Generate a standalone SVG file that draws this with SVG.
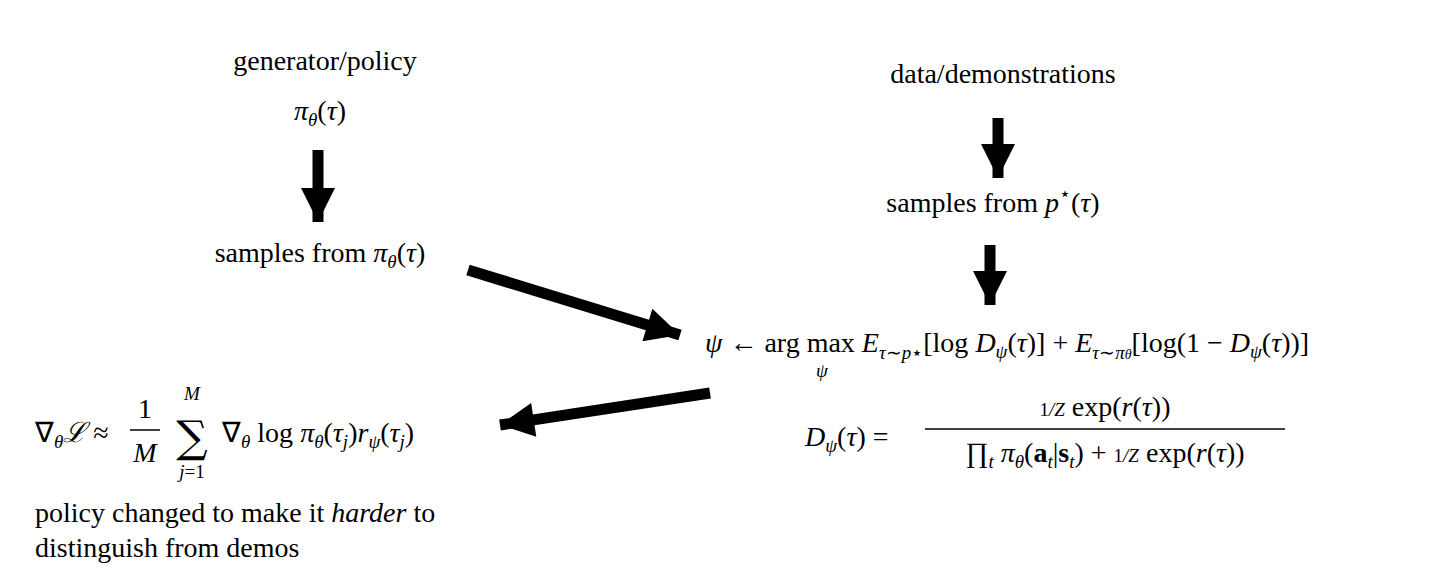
<svg xmlns="http://www.w3.org/2000/svg" width="1455" height="571" viewBox="0 0 1455 571" font-family="'Liberation Serif', 'Times New Roman', serif">
<style>
text{font-family:'Liberation Serif','Times New Roman',serif;font-size:28px;fill:#000}
.s{font-size:19px}
.i{font-style:italic}
.ar{stroke:#000;stroke-width:11;fill:none}
</style>
<defs>
<marker id="h" viewBox="0 0 10 10" refX="10" refY="5" markerWidth="3.6" markerHeight="3.1" orient="auto" markerUnits="strokeWidth">
<path d="M0,0L10,5L0,10z" fill="#000"/>
</marker>
</defs>
<rect width="1455" height="571" fill="#fff"/>
<g id="generator">
<text x="325" y="70" text-anchor="middle">generator/policy</text>
<text x="320" y="120" text-anchor="middle"><tspan class="i">π</tspan><tspan class="s i" dy="6">θ</tspan><tspan dy="-6">(</tspan><tspan class="i">τ</tspan>)</text>
</g>
<g id="samples_pi">
<text x="320" y="262" text-anchor="middle">samples from <tspan class="i">π</tspan><tspan class="s i" dy="6">θ</tspan><tspan dy="-6">(</tspan><tspan class="i">τ</tspan>)</text>
</g>
<g id="data">
<text x="1003" y="83" text-anchor="middle">data/demonstrations</text>
</g>
<g id="samples_p">
<text x="993" y="212" text-anchor="middle">samples from <tspan class="i">p</tspan><tspan class="s" dy="-12">⋆</tspan><tspan dy="12">(</tspan><tspan class="i">τ</tspan>)</text>
</g>
<g id="discriminator">
<text x="705" y="352"><tspan class="i">ψ</tspan> ← arg max <tspan class="i">E</tspan><tspan class="s" dy="7"><tspan class="i">τ</tspan>∼<tspan class="i">p</tspan>⋆</tspan><tspan dy="-7">[log </tspan><tspan class="i">D</tspan><tspan class="s i" dy="6">ψ</tspan><tspan dy="-6">(</tspan><tspan class="i">τ</tspan>)] + <tspan class="i">E</tspan><tspan class="s" dy="7"><tspan class="i">τ</tspan>∼<tspan class="i">π</tspan><tspan class="i" font-size="14">θ</tspan></tspan><tspan dy="-7">[log(1 − </tspan><tspan class="i">D</tspan><tspan class="s i" dy="6">ψ</tspan><tspan dy="-6">(</tspan><tspan class="i">τ</tspan>))]</text>
<text x="822" y="377" class="s i" text-anchor="middle">ψ</text>
</g>
<g id="dform">
<text x="805" y="446"><tspan class="i">D</tspan><tspan class="s i" dy="6">ψ</tspan><tspan dy="-6">(</tspan><tspan class="i">τ</tspan>) =</text>
<text x="1105" y="416" text-anchor="middle"><tspan class="s">1</tspan><tspan class="s i">/Z</tspan> exp(<tspan class="i">r</tspan>(<tspan class="i">τ</tspan>))</text>
<line x1="925" y1="429" x2="1285" y2="429" stroke="#000" stroke-width="1.5"/>
<text x="1105" y="462" text-anchor="middle">∏<tspan class="s i" dy="6">t</tspan><tspan dy="-6" class="i"> π</tspan><tspan class="s i" dy="6">θ</tspan><tspan dy="-6">(</tspan><tspan font-weight="bold">a</tspan><tspan class="s i" dy="6">t</tspan><tspan dy="-6">|</tspan><tspan font-weight="bold">s</tspan><tspan class="s i" dy="6">t</tspan><tspan dy="-6">) + </tspan><tspan class="s">1</tspan><tspan class="s i">/Z</tspan> exp(<tspan class="i">r</tspan>(<tspan class="i">τ</tspan>))</text>
</g>
<g id="gradient">
<text x="35" y="442">∇<tspan class="s i" dy="6">θ</tspan><tspan dy="-6" class="i">ℒ</tspan> ≈</text>
<text x="145" y="418" text-anchor="middle">1</text>
<line x1="130" y1="430" x2="160" y2="430" stroke="#000" stroke-width="1.5"/>
<text x="145" y="462" text-anchor="middle" class="i">M</text>
<text x="192" y="452" text-anchor="middle" style="font-size:44px;font-family:'DejaVu Serif',serif">∑</text>
<text x="192" y="400" text-anchor="middle" class="s i">M</text>
<text x="192" y="478" text-anchor="middle" class="s"><tspan class="i">j</tspan>=1</text>
<text x="222" y="442">∇<tspan class="s i" dy="6">θ</tspan><tspan dy="-6"> log </tspan><tspan class="i">π</tspan><tspan class="s i" dy="6">θ</tspan><tspan dy="-6">(</tspan><tspan class="i">τ</tspan><tspan class="s i" dy="6">j</tspan><tspan dy="-6">)</tspan><tspan class="i">r</tspan><tspan class="s i" dy="6">ψ</tspan><tspan dy="-6">(</tspan><tspan class="i">τ</tspan><tspan class="s i" dy="6">j</tspan><tspan dy="-6">)</tspan></text>
</g>
<g id="caption">
<text x="35" y="522">policy changed to make it <tspan class="i">harder</tspan> to</text>
<text x="35" y="557">distinguish from demos</text>
</g>
<g id="connectors">
<line class="ar" x1="318" y1="150" x2="318" y2="222" marker-end="url(#h)"/>
<line class="ar" x1="998" y1="118" x2="998" y2="178" marker-end="url(#h)"/>
<line class="ar" x1="990" y1="245" x2="990" y2="305" marker-end="url(#h)"/>
<line class="ar" x1="468" y1="270" x2="680" y2="335" marker-end="url(#h)"/>
<line class="ar" x1="710" y1="393" x2="500" y2="425" marker-end="url(#h)"/>
</g>
</svg>
